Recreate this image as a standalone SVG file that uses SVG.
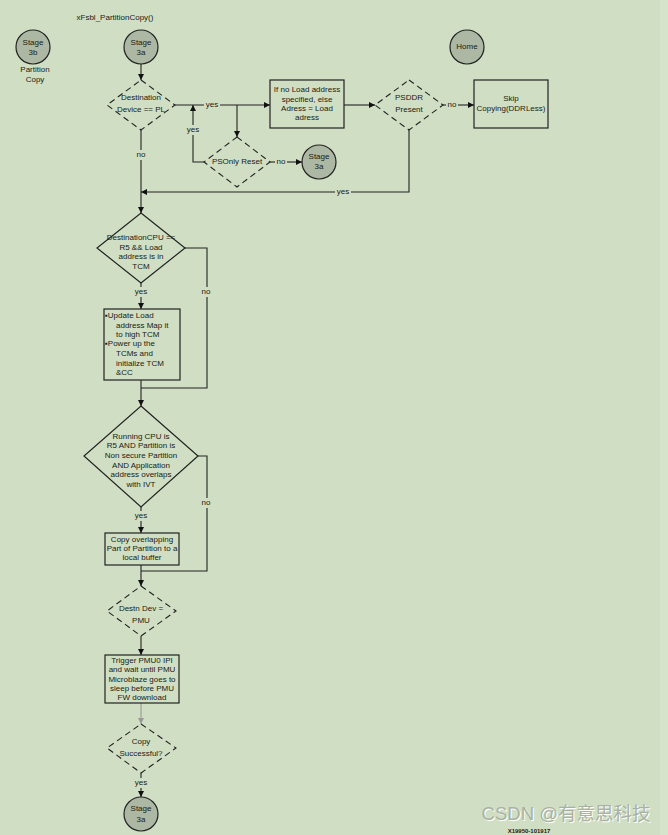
<svg xmlns="http://www.w3.org/2000/svg" width="668" height="835" viewBox="0 0 668 835">
<defs>
<marker id="ah" viewBox="0 0 10 10" refX="10" refY="5" markerWidth="8" markerHeight="6" markerUnits="userSpaceOnUse" orient="auto"><path d="M0,0 L10,5 L0,10 z" fill="#111"/></marker>
<marker id="ahg" viewBox="0 0 10 10" refX="10" refY="5" markerWidth="8" markerHeight="6" markerUnits="userSpaceOnUse" orient="auto"><path d="M0,0 L10,5 L0,10 z" fill="#999"/></marker>
<style>
text{font-family:"Liberation Sans",Arial,sans-serif;font-size:8px;fill:#1b1b12;text-anchor:middle;dominant-baseline:middle}
.st{fill:#adb8a4;stroke:#222;stroke-width:1.2}
.box{fill:none;stroke:#222;stroke-width:1.2}
.dd{fill:none;stroke:#222;stroke-width:1.1;stroke-dasharray:6,4}
.sd{fill:none;stroke:#222;stroke-width:1.2}
.ln{fill:none;stroke:#222;stroke-width:1.1}
.lb{fill:#d0dfc4}
.l{text-anchor:start}
.wm{font-size:18.5px;font-family:"Liberation Sans","Noto Sans CJK SC",sans-serif}
</style>
</defs>
<rect width="668" height="835" fill="#d0dfc4"/>
<rect x="660" y="0" width="8" height="835" fill="#d6e4cb"/>
<text x="115" y="18">xFsbl_PartitionCopy()</text>

<g id="connectors">
<line class="ln" x1="141" y1="64" x2="141" y2="80" marker-end="url(#ah)"/>
<line class="ln" x1="175" y1="105" x2="270" y2="105" marker-end="url(#ah)"/>
<line class="ln" x1="237" y1="105" x2="237" y2="137" marker-end="url(#ah)"/>
<polyline class="ln" points="204,162 193,162 193,105" marker-end="url(#ah)"/>
<line class="ln" x1="270" y1="162" x2="302" y2="162" marker-end="url(#ah)"/>
<line class="ln" x1="344" y1="105" x2="375" y2="105" marker-end="url(#ah)"/>
<line class="ln" x1="443" y1="105" x2="474" y2="105" marker-end="url(#ah)"/>
<polyline class="ln" points="409,130 409,192 141,192" marker-end="url(#ah)"/>
<line class="ln" x1="141" y1="130" x2="141" y2="213" marker-end="url(#ah)"/>
<line class="ln" x1="141" y1="283" x2="141" y2="309" marker-end="url(#ah)"/>
<polyline class="ln" points="185,248 207,248 207,388 141,388"/>
<line class="ln" x1="141" y1="380" x2="141" y2="406" marker-end="url(#ah)"/>
<line class="ln" x1="141" y1="507" x2="141" y2="533" marker-end="url(#ah)"/>
<polyline class="ln" points="198,456 207,456 207,571 141,571"/>
<line class="ln" x1="141" y1="565" x2="141" y2="586" marker-end="url(#ah)"/>
<line class="ln" x1="141" y1="636" x2="141" y2="655" marker-end="url(#ah)"/>
<line x1="141" y1="703" x2="141" y2="724" stroke="#999" stroke-width="1.1" marker-end="url(#ahg)"/>
<line class="ln" x1="141" y1="773" x2="141" y2="797" marker-end="url(#ah)"/>
<rect class="lb" x="204" y="100" width="16" height="10"/><text x="212" y="105">yes</text>
<rect class="lb" x="185" y="125" width="16" height="10"/><text x="193" y="130">yes</text>
<rect class="lb" x="275" y="157" width="12" height="10"/><text x="281" y="162">no</text>
<rect class="lb" x="446" y="100" width="12" height="10"/><text x="452" y="105">no</text>
<rect class="lb" x="335" y="187" width="16" height="10"/><text x="343" y="192">yes</text>
<rect class="lb" x="135" y="150" width="12" height="10"/><text x="141" y="155">no</text>
<rect class="lb" x="133" y="287" width="16" height="10"/><text x="141" y="292">yes</text>
<rect class="lb" x="200" y="287" width="12" height="10"/><text x="206" y="292">no</text>
<rect class="lb" x="133" y="511" width="16" height="10"/><text x="141" y="516">yes</text>
<rect class="lb" x="200" y="498" width="12" height="10"/><text x="206" y="503">no</text>
<rect class="lb" x="133" y="778" width="16" height="10"/><text x="141" y="783">yes</text>
</g>

<g id="stage3b"><circle class="st" cx="33" cy="47" r="17"/><text x="33" y="43">Stage</text><text x="33" y="53">3b</text><text x="35" y="70">Partition</text><text x="35" y="80">Copy</text></g>
<g id="stage3a-top"><circle class="st" cx="141" cy="47" r="17"/><text x="141" y="43">Stage</text><text x="141" y="53">3a</text></g>
<g id="home"><circle class="st" cx="467" cy="47" r="17"/><text x="467" y="47">Home</text></g>
<g id="dec-pl"><polygon class="dd" points="141,80 175,105 141,130 107,105"/><text x="141" y="98">Destination</text><text x="141" y="110">Device == PL</text></g>
<g id="dec-psonly"><polygon class="dd" points="237,137 270,162 237,187 204,162"/><text x="237" y="162">PSOnly Reset</text></g>
<g id="stage3a-mid"><circle class="st" cx="319" cy="162" r="17"/><text x="319" y="157">Stage</text><text x="319" y="167">3a</text></g>
<g id="box-load"><rect class="box" x="270" y="80" width="74" height="48"/><text x="307" y="90">If no Load address</text><text x="307" y="99.5">specified, else</text><text x="307" y="109">Adress = Load</text><text x="307" y="118">adress</text></g>
<g id="dec-psddr"><polygon class="dd" points="409,80 443,105 409,130 375,105"/><text x="409" y="98">PSDDR</text><text x="409" y="110">Present</text></g>
<g id="box-skip"><rect class="box" x="474" y="80" width="74" height="48"/><text x="511" y="99">Skip</text><text x="511" y="109">Copying(DDRLess)</text></g>
<g id="dec-tcm"><polygon class="sd" points="141,213 185,248 141,283 97,248"/><text x="141" y="238">DestinationCPU ==</text><text x="141" y="248">R5 &amp;&amp; Load</text><text x="141" y="257">address is in</text><text x="141" y="267">TCM</text></g>
<g id="box-tcm"><rect class="box" x="104" y="309" width="76" height="71"/><text class="l" x="105" y="316">▪Update Load</text><text class="l" x="116" y="326">address Map it</text><text class="l" x="116" y="335">to high TCM</text><text class="l" x="105" y="344">▪Power up the</text><text class="l" x="116" y="354">TCMs and</text><text class="l" x="116" y="364">initialize TCM</text><text class="l" x="116" y="373">&amp;CC</text></g>
<g id="dec-ivt"><polygon class="sd" points="141,406 198,456 141,507 84,456"/><text x="141" y="437">Running CPU is</text><text x="141" y="446">R5 AND Partition is</text><text x="141" y="456">Non secure Partition</text><text x="141" y="466">AND Application</text><text x="141" y="475">address overlaps</text><text x="141" y="485">with IVT</text></g>
<g id="box-copy"><rect class="box" x="105" y="533" width="74" height="32"/><text x="142" y="540">Copy overlapping</text><text x="142" y="549">Part of Partition to a</text><text x="142" y="558">local buffer</text></g>
<g id="dec-pmu"><polygon class="dd" points="141,586 176,611 141,636 107,611"/><text x="141" y="609">Destn Dev =</text><text x="141" y="621">PMU</text></g>
<g id="box-pmu"><rect class="box" x="105" y="655" width="74" height="48"/><text x="142" y="661">Trigger PMU0 IPI</text><text x="142" y="670">and wait until PMU</text><text x="142" y="679.5">Microblaze goes to</text><text x="142" y="689">sleep before PMU</text><text x="142" y="698">FW download</text></g>
<g id="dec-success"><polygon class="dd" points="141,724 176,748 141,773 107,748"/><text x="141" y="742">Copy</text><text x="141" y="754">Successful?</text></g>
<g id="stage3a-bottom"><circle class="st" cx="141" cy="814" r="17"/><text x="141" y="809">Stage</text><text x="141" y="820">3a</text></g>

<text x="529" y="831" style="font-size:6px;font-weight:bold">X19950-101917</text>
<text class="wm" x="567" y="816" style="fill:#ffffff">CSDN @有意思科技</text>
<text class="wm" x="566" y="815" style="fill:#a9b1a2">CSDN @有意思科技</text>
</svg>
